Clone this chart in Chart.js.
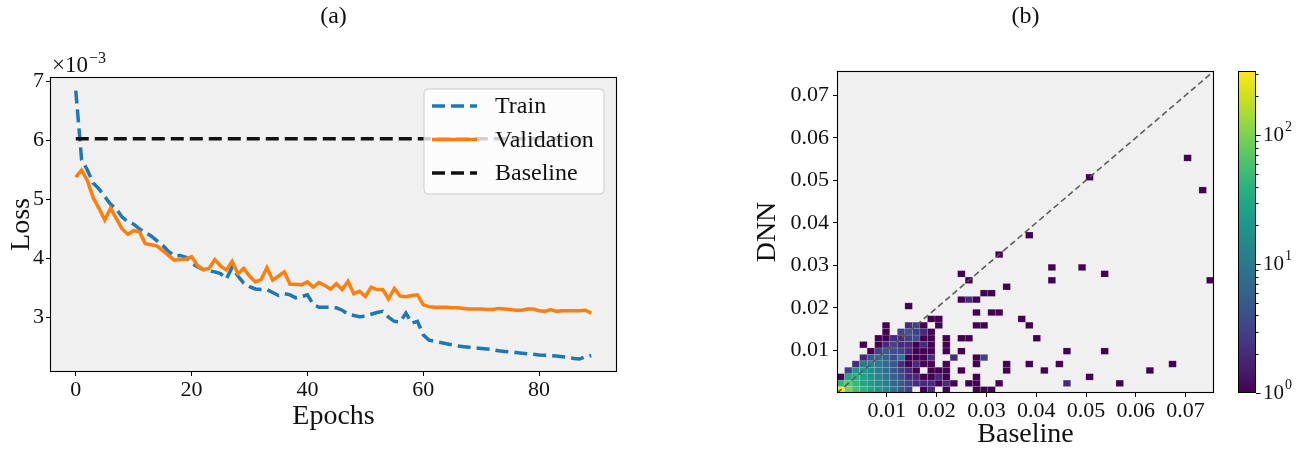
<!DOCTYPE html>
<html><head><meta charset="utf-8">
<script src="https://cdn.jsdelivr.net/npm/chart.js@4.4.1/dist/chart.umd.min.js"></script>
<style>
html,body{margin:0;padding:0;background:#fff;}
#wrap{position:relative;width:1296px;height:452px;overflow:hidden;background:#fff;}
canvas{position:absolute;top:0;}
</style></head><body>
<div id="wrap">
<canvas id="ca" style="left:0px;" width="640" height="452"></canvas>
<canvas id="cb" style="left:740px;" width="490" height="452"></canvas>
<canvas id="cc" style="left:1230px;" width="66" height="452"></canvas>
</div>
<script>
// ---------------- DATA: panel (a) ----------------
const epochs = [0,1,2,3,4,5,6,7,8,9,10,11,12,13,14,15,16,17,18,19,20,21,22,23,24,25,26,27,28,29,
  30,31,32,33,34,35,36,37,38,39,40,41,42,43,44,45,46,47,48,49,50,51,52,53,54,55,56,57,58,59,
  60,61,62,63,64,65,66,67,68,69,70,71,72,73,74,75,76,77,78,79,80,81,82,83,84,85,86,87,88,89];
const trainLoss = [6.85,5.68,5.5,5.28,5.18,5.05,4.92,4.84,4.7,4.62,4.58,4.5,4.44,4.38,4.3,4.22,4.12,4.04,4.05,4.02,
  3.92,3.86,3.81,3.79,3.77,3.74,3.65,3.85,3.7,3.58,3.52,3.48,3.47,3.47,3.42,3.37,3.4,3.38,3.33,3.35,
  3.38,3.22,3.17,3.17,3.17,3.16,3.12,3.05,3.03,3.01,3.02,3.05,3.08,3.1,3.0,2.93,2.92,3.07,2.9,2.93,
  2.7,2.61,2.59,2.57,2.55,2.53,2.51,2.5,2.49,2.48,2.47,2.46,2.45,2.43,2.42,2.41,2.4,2.39,2.38,2.37,
  2.36,2.355,2.35,2.34,2.33,2.32,2.3,2.29,2.33,2.35];
const valLoss = [5.38,5.5,5.32,5.03,4.85,4.65,4.85,4.68,4.5,4.41,4.47,4.45,4.25,4.23,4.21,4.13,4.05,3.97,3.98,3.99,
  4.03,3.88,3.81,3.83,3.98,3.87,3.8,3.95,3.74,3.83,3.7,3.6,3.64,3.84,3.63,3.7,3.77,3.56,3.56,3.55,
  3.6,3.51,3.59,3.54,3.48,3.57,3.47,3.61,3.4,3.44,3.35,3.51,3.47,3.47,3.31,3.49,3.36,3.35,3.37,3.38,
  3.21,3.18,3.17,3.17,3.17,3.16,3.16,3.15,3.14,3.14,3.14,3.13,3.13,3.15,3.14,3.13,3.12,3.12,3.14,3.14,
  3.11,3.1,3.13,3.1,3.11,3.11,3.11,3.11,3.12,3.07];
const baselineLoss = 6.03;
const epochTicks = [0,20,40,60,80];
const lossTicks = [3,4,5,6,7];

// ---------------- DATA: panel (b) ----------------
const histMin = 0, histMax = 0.0757, nBins = 50;
const axisTicksB = [0.01,0.02,0.03,0.04,0.05,0.06,0.07];
// 2D histogram cells: column (Baseline bin), row (DNN bin), count
const histCol = [
  0,1,2,3,4,5,6,7,8,9,11,12,14,18,19,20,
  0,1,2,3,4,5,6,7,8,9,10,11,12,13,14,15,17,18,21,30,37,
  0,1,2,3,4,5,6,7,8,9,10,11,12,13,14,18,33,
  1,2,3,4,5,6,7,8,9,10,12,13,14,16,22,27,41,
  2,3,4,5,6,7,8,9,10,11,12,14,18,22,25,29,44,
  3,4,5,6,7,8,9,10,11,12,15,18,19,
  4,5,6,7,8,9,10,11,12,14,16,30,35,
  3,5,6,7,8,9,10,11,12,14,
  5,6,7,8,9,10,11,12,14,16,17,26,
  6,8,9,10,11,12,
  6,9,10,11,13,18,19,25,
  12,13,24,
  18,20,21,
  9,
  16,17,18,
  19,20,
  22,
  17,28,49,
  16,35,
  28,32,
  21,
  25,
  48,
  33,
  46];
const histRow = [
  0,0,0,0,0,0,0,0,0,0,0,0,0,0,0,0,
  1,1,1,1,1,1,1,1,1,1,1,1,1,1,1,1,1,1,1,1,1,
  2,2,2,2,2,2,2,2,2,2,2,2,2,2,2,2,2,
  3,3,3,3,3,3,3,3,3,3,3,3,3,3,3,3,3,
  4,4,4,4,4,4,4,4,4,4,4,4,4,4,4,4,4,
  5,5,5,5,5,5,5,5,5,5,5,5,5,
  6,6,6,6,6,6,6,6,6,6,6,6,6,
  7,7,7,7,7,7,7,7,7,7,
  8,8,8,8,8,8,8,8,8,8,8,8,
  9,9,9,9,9,9,
  10,10,10,10,10,10,10,10,
  11,11,11,
  12,12,12,
  13,
  14,14,14,
  15,15,
  16,
  17,17,17,
  18,18,
  19,19,
  21,
  24,
  31,
  33,
  36];
const histCount = [
  320,100,55,38,28,20,14,9,5,3,1,2,1,1,1,1,
  45,70,45,30,22,16,11,7,5,3,2,2,2,1,2,1,1,1,1,2,1,
  1,30,38,26,18,13,9,6,4,2,2,1,1,2,1,1,1,
  3,18,22,16,11,8,5,3,2,1,1,1,1,1,1,1,1,
  2,10,13,10,7,5,2,1,2,1,1,1,1,1,1,1,1,
  2,5,8,6,4,9,1,1,1,2,2,1,3,
  1,3,5,4,3,2,1,1,1,1,1,1,1,
  1,1,2,3,2,2,1,2,1,1,
  1,1,2,2,3,4,1,1,1,1,1,1,
  1,3,5,3,2,1,
  1,2,3,1,1,1,1,1,
  1,1,1,
  1,1,1,
  1,
  1,2,1,
  1,1,
  1,
  1,1,1,
  1,1,
  1,1,
  1,
  1,
  1,
  1,
  1];
const cMin = 1, cMax = 315;
const cbarMajor = [1,10,100];
const cbarExp = ['0','1','2'];
const cbarMinor = [2,3,4,5,6,7,8,9,20,30,40,50,60,70,80,90,200,300];

// ---------------- helpers ----------------
const FONT = "'Liberation Serif','Times New Roman',serif";
Chart.defaults.font.family = FONT;
Chart.defaults.color = '#111';

const VIR = ['#440154','#48186a','#472d7b','#424086','#3b528b','#33638d','#2c728e','#26828e',
  '#21918c','#1fa088','#28ae80','#3fbc73','#5ec962','#84d44b','#addc30','#d8e219','#fde725'];
function hex2rgb(h){return [parseInt(h.substr(1,2),16),parseInt(h.substr(3,2),16),parseInt(h.substr(5,2),16)];}
const VIRRGB = VIR.map(hex2rgb);
function viridis(t){
  t = Math.max(0, Math.min(1, t));
  const p = t*(VIRRGB.length-1), i = Math.min(Math.floor(p), VIRRGB.length-2), f = p - i;
  const a = VIRRGB[i], b = VIRRGB[i+1];
  return 'rgb(' + Math.round(a[0]+(b[0]-a[0])*f) + ',' + Math.round(a[1]+(b[1]-a[1])*f) + ',' + Math.round(a[2]+(b[2]-a[2])*f) + ')';
}
function lognorm(v){ return (Math.log(v)-Math.log(cMin))/(Math.log(cMax)-Math.log(cMin)); }

const bgPlugin = {id:'bg', beforeDraw(chart){
  const {ctx, chartArea:a} = chart;
  ctx.save(); ctx.fillStyle = '#f0f0f0';
  ctx.fillRect(a.left, a.top, a.right-a.left, a.bottom-a.top); ctx.restore();
}};
const framePlugin = {id:'frame', afterDraw(chart){
  const {ctx, chartArea:a} = chart;
  ctx.save(); ctx.strokeStyle = '#000'; ctx.lineWidth = 1.1;
  ctx.strokeRect(Math.round(a.left)+0.5, Math.round(a.top)+0.5, Math.round(a.right-a.left)-1, Math.round(a.bottom-a.top)-1);
  ctx.restore();
}};
function titlePlugin(txt){ return {id:'ptitle', afterDraw(chart){
  const {ctx, chartArea:a} = chart;
  ctx.save(); ctx.font = '24px ' + FONT; ctx.fillStyle = '#111';
  ctx.textAlign = 'center'; ctx.textBaseline = 'alphabetic';
  ctx.fillText(txt, (a.left+a.right)/2, 23); ctx.restore();
}};}
const sciPlugin = {id:'sci', afterDraw(chart){
  const {ctx, chartArea:a} = chart;
  ctx.save(); ctx.fillStyle = '#111'; ctx.textBaseline = 'alphabetic'; ctx.textAlign = 'left';
  ctx.font = '23px ' + FONT;
  const base = '\u00d710';
  ctx.fillText(base, a.left + 2, a.top - 5);
  const w = ctx.measureText(base).width;
  ctx.font = '16px ' + FONT;
  ctx.fillText('\u22123', a.left + 2 + w + 1, a.top - 14);
  ctx.restore();
}};
const legendPlugin = {id:'inlegend', afterDatasetsDraw(chart){
  const {ctx, chartArea:a} = chart;
  const ds = chart.data.datasets;
  const bx = a.right - 193, by = a.top + 12, bwid = 180, bh = 105, r = 4;
  ctx.save();
  ctx.beginPath();
  ctx.moveTo(bx+r, by); ctx.lineTo(bx+bwid-r, by); ctx.quadraticCurveTo(bx+bwid, by, bx+bwid, by+r);
  ctx.lineTo(bx+bwid, by+bh-r); ctx.quadraticCurveTo(bx+bwid, by+bh, bx+bwid-r, by+bh);
  ctx.lineTo(bx+r, by+bh); ctx.quadraticCurveTo(bx, by+bh, bx, by+bh-r);
  ctx.lineTo(bx, by+r); ctx.quadraticCurveTo(bx, by, bx+r, by); ctx.closePath();
  ctx.fillStyle = 'rgba(255,255,255,0.8)'; ctx.fill();
  ctx.strokeStyle = '#cccccc'; ctx.lineWidth = 1; ctx.stroke();
  ds.forEach((d, k) => {
    const yy = by + 17 + k*33.5;
    ctx.beginPath(); ctx.setLineDash(d.borderDash || []);
    ctx.strokeStyle = d.borderColor; ctx.lineWidth = d.borderWidth;
    ctx.moveTo(bx + 8, yy); ctx.lineTo(bx + 53, yy); ctx.stroke();
    ctx.setLineDash([]);
    ctx.font = '24px ' + FONT; ctx.fillStyle = '#111'; ctx.textBaseline = 'middle'; ctx.textAlign = 'left';
    ctx.fillText(d.label, bx + 71, yy + 1);
  });
  ctx.restore();
}};

// ---------------- panel (a) ----------------
new Chart(document.getElementById('ca'), {
  type: 'line',
  data: {datasets: [
    {label:'Train', data: epochs.map((e,i)=>({x:e, y:trainLoss[i]})), borderColor:'#1f77b4', borderDash:[13,6],
     borderWidth:3.5, pointRadius:0, tension:0, fill:false, order:2},
    {label:'Validation', data: epochs.map((e,i)=>({x:e, y:valLoss[i]})), borderColor:'#ff7f0e',
     borderWidth:3.5, pointRadius:0, tension:0, fill:false, order:1},
    {label:'Baseline', data: [{x:epochs[0], y:baselineLoss},{x:epochs[epochs.length-1], y:baselineLoss}], borderColor:'#111',
     borderDash:[13,6], borderWidth:3.5, pointRadius:0, fill:false, order:0}
  ]},
  options: {
    responsive:false, animation:false, devicePixelRatio:1,
    layout:{padding:{left:0, top:77, right:23, bottom:15}},
    plugins:{legend:{display:false}, tooltip:{enabled:false}},
    scales:{
      x:{type:'linear', min:-4.45, max:93.45,
         afterBuildTicks: s => { s.ticks = epochTicks.map(v => ({value:v})); },
         afterFit: s => { s.height = 65; },
         grid:{drawOnChartArea:false, drawTicks:true, tickLength:4, color:'#000', lineWidth:1},
         border:{display:false},
         ticks:{font:{family:FONT, size:22}, padding:1, color:'#111', maxRotation:0, autoSkip:false},
         title:{display:true, text:'Epochs', font:{family:FONT, size:28}, padding:{top:0, bottom:4}, color:'#111'}},
      y:{type:'linear', min:2.07, max:7.08,
         afterBuildTicks: s => { s.ticks = lossTicks.map(v => ({value:v})); },
         afterFit: s => { s.width = 50; },
         grid:{drawOnChartArea:false, drawTicks:true, tickLength:4, color:'#000', lineWidth:1},
         border:{display:false},
         ticks:{font:{family:FONT, size:22}, padding:2, color:'#111', autoSkip:false},
         title:{display:true, text:'Loss', font:{family:FONT, size:28}, padding:{top:5, bottom:0}, color:'#111'}}
    }
  },
  plugins:[bgPlugin, legendPlugin, framePlugin, sciPlugin, titlePlugin('(a)')]
});

// ---------------- panel (b) ----------------
const heatPlugin = {id:'heat', beforeDatasetsDraw(chart){
  const {ctx, chartArea:a, scales:{x, y}} = chart;
  const bw = (histMax - histMin) / nBins;
  ctx.save(); ctx.beginPath(); ctx.rect(a.left, a.top, a.right-a.left, a.bottom-a.top); ctx.clip();
  for (let k = 0; k < histCount.length; k++){
    const x0 = x.getPixelForValue(histMin + histCol[k]*bw), x1 = x.getPixelForValue(histMin + (histCol[k]+1)*bw);
    const y0 = y.getPixelForValue(histMin + (histRow[k]+1)*bw), y1 = y.getPixelForValue(histMin + histRow[k]*bw);
    ctx.fillStyle = viridis(lognorm(histCount[k]));
    ctx.fillRect(x0, y0, x1-x0, y1-y0);
    ctx.strokeStyle = 'rgba(255,255,255,0.2)'; ctx.lineWidth = 0.7;
    ctx.strokeRect(x0, y0, x1-x0, y1-y0);
  }
  ctx.restore();
}};
new Chart(document.getElementById('cb'), {
  type:'scatter',
  data:{datasets:[{label:'y = x', data:[{x:histMin, y:histMin},{x:histMax, y:histMax}], showLine:true,
    borderColor:'rgba(85,85,85,0.95)', borderDash:[6,3.5], borderWidth:1.6, pointRadius:0, fill:false}]},
  options:{
    responsive:false, animation:false, devicePixelRatio:1,
    layout:{padding:{left:7, top:71, right:16, bottom:1}},
    plugins:{legend:{display:false}, tooltip:{enabled:false}},
    scales:{
      x:{type:'linear', min:histMin, max:histMax,
         afterBuildTicks: s => { s.ticks = axisTicksB.map(v => ({value:v})); },
         afterFit: s => { s.height = 58; },
         grid:{drawOnChartArea:false, drawTicks:true, tickLength:4, color:'#000'},
         border:{display:false},
         ticks:{font:{family:FONT, size:22}, padding:1, color:'#111', maxRotation:0, autoSkip:false, callback: v => v.toFixed(2)},
         title:{display:true, text:'Baseline', font:{family:FONT, size:28}, padding:{top:0, bottom:0}, color:'#111'}},
      y:{type:'linear', min:histMin, max:histMax,
         afterBuildTicks: s => { s.ticks = axisTicksB.map(v => ({value:v})); },
         afterFit: s => { s.width = 90; },
         grid:{drawOnChartArea:false, drawTicks:true, tickLength:4, color:'#000'},
         border:{display:false},
         ticks:{font:{family:FONT, size:22}, padding:4, color:'#111', autoSkip:false, callback: v => v.toFixed(2)},
         title:{display:true, text:'DNN', font:{family:FONT, size:28}, padding:{top:4, bottom:0}, color:'#111'}}
    }
  },
  plugins:[bgPlugin, heatPlugin, framePlugin, titlePlugin('(b)')]
});

// ---------------- colorbar ----------------
const cbarPlugin = {id:'cbar', afterDraw(chart){
  const {ctx, chartArea:a, scales:{y}} = chart;
  ctx.save();
  for (let py = Math.floor(a.top); py < Math.ceil(a.bottom); py++){
    const v = y.getValueForPixel(py + 0.5);
    ctx.fillStyle = viridis(lognorm(v));
    ctx.fillRect(a.left, py, a.right - a.left, 1);
  }
  ctx.strokeStyle = '#000'; ctx.lineWidth = 1;
  ctx.strokeRect(Math.round(a.left)+0.5, Math.round(a.top)+0.5, Math.round(a.right-a.left)-1, Math.round(a.bottom-a.top)-1);
  const rx = Math.round(a.right);
  cbarMinor.forEach(v => {
    const p = Math.round(y.getPixelForValue(v)) + 0.5;
    ctx.beginPath(); ctx.moveTo(rx, p); ctx.lineTo(rx + 2.5, p); ctx.stroke();
  });
  cbarMajor.forEach((v, k) => {
    const p = Math.round(y.getPixelForValue(v)) + 0.5;
    ctx.beginPath(); ctx.moveTo(rx, p); ctx.lineTo(rx + 4.5, p); ctx.stroke();
    ctx.fillStyle = '#111'; ctx.textAlign = 'left'; ctx.textBaseline = 'middle';
    ctx.font = '21px ' + FONT;
    ctx.fillText('10', rx + 7, p);
    const w = ctx.measureText('10').width;
    ctx.font = '14px ' + FONT;
    ctx.fillText(cbarExp[k], rx + 7 + w + 1, p - 8);
  });
  ctx.restore();
}};
new Chart(document.getElementById('cc'), {
  type:'bar',
  data:{labels:[], datasets:[]},
  options:{
    responsive:false, animation:false, devicePixelRatio:1,
    layout:{padding:{left:8, top:71, right:40, bottom:59}},
    plugins:{legend:{display:false}, tooltip:{enabled:false}},
    scales:{
      x:{display:false},
      y:{type:'logarithmic', min:cMin, max:cMax, display:false}
    }
  },
  plugins:[cbarPlugin]
});
</script>
</body></html>
